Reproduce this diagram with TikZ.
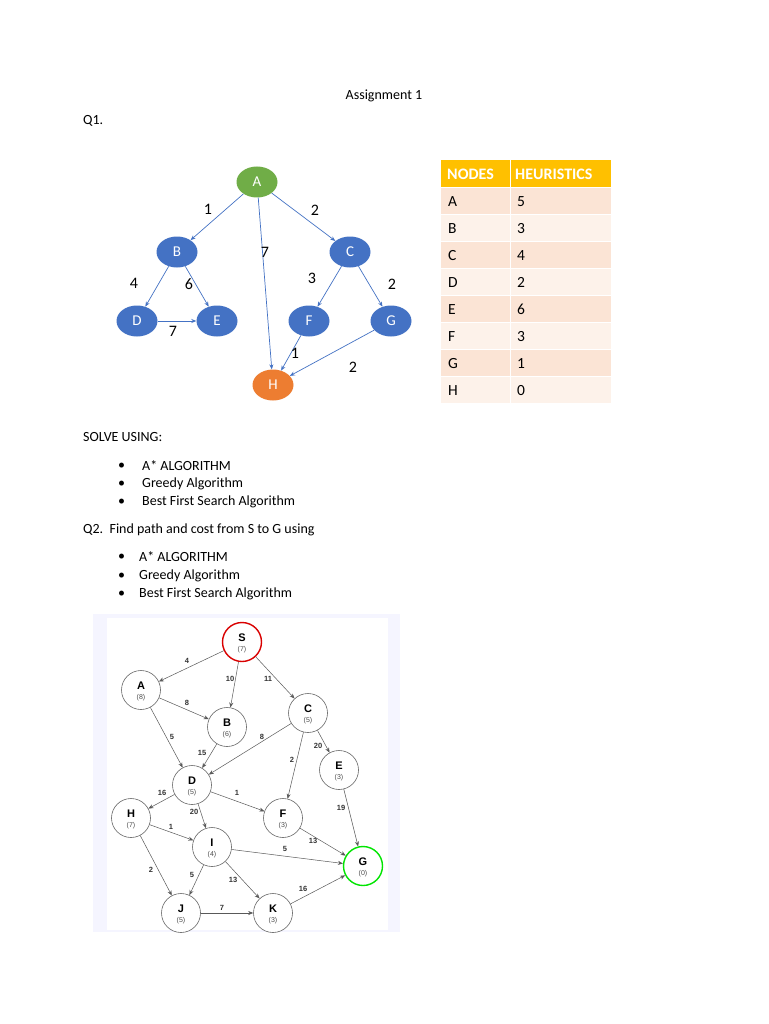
\documentclass[tikz,border=0pt]{standalone}
\usepackage{fontspec}
\setmainfont{Carlito}
\newfontfamily\arialf{Liberation Sans}
\definecolor{obl}{HTML}{4472C4}
\definecolor{ogr}{HTML}{70AD47}
\definecolor{oor}{HTML}{ED7D31}
\definecolor{thd}{HTML}{FFC000}
\definecolor{tr1}{HTML}{FBE4D5}
\definecolor{tr2}{HTML}{FDF2EA}
\begin{document}
\begin{tikzpicture}[x=1pt,y=-1pt,
  doc/.style={anchor=west,inner sep=0pt,font=\fontsize{14}{15}\selectfont},
  enode/.style={ellipse,fill=#1,minimum width=41pt,minimum height=31pt,inner sep=0pt,text=white,font=\fontsize{15}{16}\selectfont},
  earrow/.style={draw=obl,-{Stealth[length=5pt,width=4pt]},line width=0.7pt},
  elab/.style={font=\fontsize{16}{17}\selectfont,inner sep=0pt},
  hrow/.style={anchor=west,inner sep=0pt,font=\fontsize{15.5}{16}\selectfont},
  cnode/.style={circle,draw=black!60,line width=0.6pt,minimum size=39pt,inner sep=0pt,fill=white},
  carrow/.style={draw=black!65,-{Stealth[length=5pt,width=4pt]},line width=0.5pt},
  clab/.style={font=\arialf\bfseries\fontsize{7.5}{8}\selectfont,inner sep=0pt,text=black!80}]
\usetikzlibrary{shapes.geometric,arrows.meta}
\useasboundingbox (0,0) rectangle (768,1024);
\fill[white] (0,0) rectangle (768,1024);
\node[inner sep=0pt,font=\fontsize{14}{15}\selectfont] (title) at (384,96) {Assignment 1};
\node[doc] (q1) at (83,121) {Q1.};
% Q1 graph
\node[enode=ogr] (A) at (257,182) {A};
\node[enode=obl] (B) at (177,252) {B};
\node[enode=obl] (C) at (350,252) {C};
\node[enode=obl] (D) at (137,321) {D};
\node[enode=obl] (E) at (217,321) {E};
\node[enode=obl] (F) at (309,321) {F};
\node[enode=obl] (G) at (391,321) {G};
\node[enode=oor] (H) at (273,385) {H};
\draw[earrow] (A) -- (B); \draw[earrow] (A) -- (C); \draw[earrow] (A) -- (H);
\draw[earrow] (B) -- (D); \draw[earrow] (B) -- (E); \draw[earrow] (D) -- (E);
\draw[earrow] (C) -- (F); \draw[earrow] (C) -- (G);
\draw[earrow] (F) -- (H); \draw[earrow] (G) -- (H);
\node[elab] (l1) at (208,209) {1};
\node[elab] (l2) at (315,210) {2};
\node[elab] (l3) at (265,252) {7};
\node[elab] (l4) at (134,283) {4};
\node[elab] (l5) at (189,284) {6};
\node[elab] (l6) at (312,278) {3};
\node[elab] (l7) at (392,284) {2};
\node[elab] (l8) at (173,331) {7};
\node[elab] (l9) at (295,353) {1};
\node[elab] (l10) at (353,367) {2};
% table
\fill[thd] (441,160) rectangle (611,187);
\foreach \i/\n/\h in {0/A/5,1/B/3,2/C/4,3/D/2,4/E/6,5/F/3,6/G/1,7/H/0}{
  \pgfmathsetmacro{\yy}{188+27*\i}
  \ifodd\i \fill[tr2] (441,\yy) rectangle (611,\yy+26);
  \else \fill[tr1] (441,\yy) rectangle (611,\yy+26); \fi
  \node[hrow] (tn\i) at (448,\yy+13.5) {\n};
  \node[hrow] (th\i) at (517,\yy+13.5) {\h};
}
\draw[white,line width=1pt] (510,160) -- (510,407);
\node[hrow,text=white,font=\bfseries\fontsize{16}{17}\selectfont] (hn) at (447,174) {NODES};
\node[hrow,text=white,font=\bfseries\fontsize{16}{17}\selectfont] (hh) at (515,174) {HEURISTICS};
% text
\node[doc] (su) at (83,437) {SOLVE USING:};
\foreach \yy/\t [count=\k] in {466/A* ALGORITHM,484/Greedy Algorithm,502/Best First Search Algorithm}{
  \node[doc] (b\k) at (118,\yy) {\textbullet};
  \node[doc] (t\k) at (142,\yy) {\t};
}
\node[doc] (q2) at (83,530) {Q2.\ \ Find path and cost from S to G using};
\foreach \yy/\t [count=\k] in {557/A* ALGORITHM,576/Greedy Algorithm,594/Best First Search Algorithm}{
  \node[doc] (c\k) at (118,\yy) {\textbullet};
  \node[doc] (u\k) at (139,\yy) {\t};
}
% Q2 graph
\fill[blue!4] (93,614) rectangle (400,932);
\fill[white] (107,618) rectangle (388,930);
\foreach \n/\x/\y/\h in {A/141/690/8,B/227/727/6,C/308/713/5,D/192/785/5,E/339/770/3,F/283/818/3,H/131/818/7,I/212/847/4,J/181/913/5,K/273/913/3}{
  \node[cnode] (q\n) at (\x,\y) {};
  \node[inner sep=0pt,font=\arialf\bfseries\fontsize{11}{12}\selectfont] (qt\n) at (\x,\y-4) {\n};
  \node[inner sep=0pt,font=\arialf\fontsize{7}{8}\selectfont,text=black!70] (qh\n) at (\x,\y+8) {(\h)};
}
\node[cnode,draw=red!85!black,line width=1.4pt] (qS) at (242,642) {};
\node[inner sep=0pt,font=\arialf\bfseries\fontsize{11}{12}\selectfont] (qtS) at (242,638) {S};
\node[inner sep=0pt,font=\arialf\fontsize{7}{8}\selectfont,text=black!70] (qhS) at (242,650) {(7)};
\node[cnode,draw=green!90!black,line width=1.4pt] (qG) at (363,866) {};
\node[inner sep=0pt,font=\arialf\bfseries\fontsize{11}{12}\selectfont] (qtG) at (363,862) {G};
\node[inner sep=0pt,font=\arialf\fontsize{7}{8}\selectfont,text=black!70] (qhG) at (363,874) {(0)};
\foreach \a/\b in {S/A,S/B,S/C,A/B,A/D,B/D,C/D,C/E,C/F,D/H,D/F,D/I,E/G,H/I,H/J,F/G,I/G,I/J,I/K,J/K,K/G}{
  \draw[carrow] (q\a) -- (q\b);
}
\foreach \x/\y/\t [count=\k] in {187/661/4,230/679/10,268/679/11,187/703/8,172/737/5,262/737/8,202/753/15,318/746/20,292/760/2,162/793/16,237/793/1,194/812/20,341/808/19,171/827/1,313/841/13,285/849/5,151/870/2,192/875/5,233/880/13,303/889/16,222/908/7}{
  \node[clab] (cl\k) at (\x,\y) {\t};
}
\end{tikzpicture}
\end{document}
